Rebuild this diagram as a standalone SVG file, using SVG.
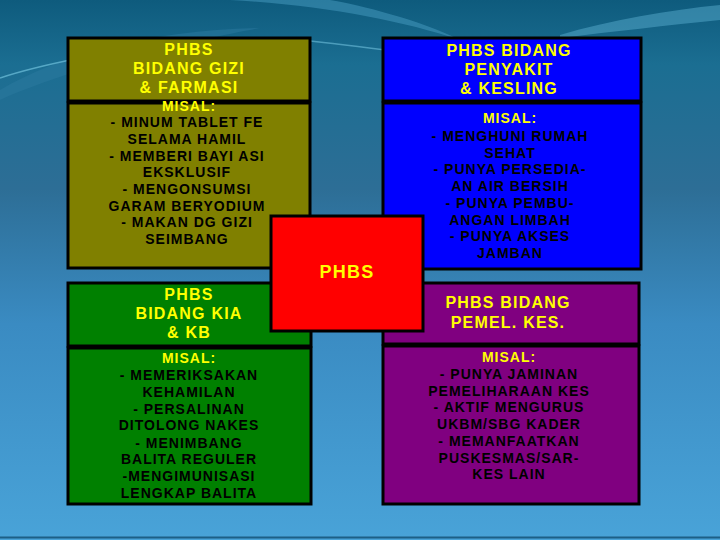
<svg xmlns="http://www.w3.org/2000/svg" width="720" height="540" viewBox="0 0 720 540">
<defs>
<linearGradient id="bg" x1="0" y1="0" x2="0" y2="1">
<stop offset="0" stop-color="#0e5b7d"/>
<stop offset="0.12" stop-color="#1b6e92"/>
<stop offset="0.35" stop-color="#2d6e96"/>
<stop offset="0.6" stop-color="#3a8bc2"/>
<stop offset="1" stop-color="#49a3d8"/>
</linearGradient>
<style>
text{font-family:"Liberation Sans",Arial,sans-serif;font-weight:bold;text-anchor:middle}
.h{fill:#ffff00;font-size:16px;letter-spacing:1.2px}
.m{fill:#ffff00;font-size:14px;letter-spacing:1px}
.b{fill:#000;font-size:14px;letter-spacing:1px}
.box{stroke:#000;stroke-width:3}
</style>
</defs>
<rect width="720" height="540" fill="url(#bg)"/>
<path d="M0,90 C60,55 150,30 260,28 C200,40 90,60 0,100 Z" fill="#2c7aa0" opacity="0.5"/>
<path d="M0,78 C30,68 60,62 80,58" stroke="#6fc0dc" stroke-width="1.5" fill="none" opacity="0.7"/>
<path d="M230,0 C320,5 400,20 460,40 C420,20 360,5 330,0 Z" fill="#3f93b8" opacity="0.6"/>
<path d="M300,40 C340,44 370,48 400,52" stroke="#6fc0dc" stroke-width="1.5" fill="none" opacity="0.6"/>
<path d="M560,35 C610,20 670,10 720,5 L720,20 C670,25 610,32 560,38 Z" fill="#5fb4d4" opacity="0.45"/>
<path d="M0,537.5 H720" stroke="#1d5f86" stroke-width="2"/>

<g id="gizi">
<rect class="box" x="68" y="38" width="242" height="63" fill="#808000"/>
<rect class="box" x="68" y="103" width="242" height="165" fill="#808000"/>
<text class="h"><tspan x="189" y="55">PHBS</tspan><tspan x="189" y="74">BIDANG GIZI</tspan><tspan x="189" y="93">&amp; FARMASI</tspan></text>
<text class="m" x="189" y="111">MISAL:</text>
<text class="b"><tspan x="187" y="127">- MINUM TABLET FE</tspan><tspan x="187" y="144">SELAMA HAMIL</tspan><tspan x="187" y="161">- MEMBERI BAYI ASI</tspan><tspan x="187" y="177">EKSKLUSIF</tspan><tspan x="187" y="194">- MENGONSUMSI</tspan><tspan x="187" y="211">GARAM BERYODIUM</tspan><tspan x="187" y="227">- MAKAN DG GIZI</tspan><tspan x="187" y="244">SEIMBANG</tspan></text>
</g>

<g id="penyakit">
<rect class="box" x="383" y="38" width="258" height="63" fill="#0000ff"/>
<rect class="box" x="383" y="103" width="258" height="166" fill="#0000ff"/>
<text class="h"><tspan x="509" y="56">PHBS BIDANG</tspan><tspan x="509" y="75">PENYAKIT</tspan><tspan x="509" y="94">&amp; KESLING</tspan></text>
<text class="m" x="510" y="123">MISAL:</text>
<text class="b"><tspan x="510" y="141">- MENGHUNI RUMAH</tspan><tspan x="510" y="158">SEHAT</tspan><tspan x="510" y="174">- PUNYA PERSEDIA-</tspan><tspan x="510" y="191">AN AIR BERSIH</tspan><tspan x="510" y="208">- PUNYA PEMBU-</tspan><tspan x="510" y="225">ANGAN LIMBAH</tspan><tspan x="510" y="241">- PUNYA AKSES</tspan><tspan x="510" y="258">JAMBAN</tspan></text>
</g>

<g id="kia">
<rect class="box" x="68" y="283" width="243" height="63" fill="#008000"/>
<rect class="box" x="68" y="348" width="243" height="156" fill="#008000"/>
<text class="h"><tspan x="189" y="300">PHBS</tspan><tspan x="189" y="319">BIDANG KIA</tspan><tspan x="189" y="338">&amp; KB</tspan></text>
<text class="m" x="189" y="363">MISAL:</text>
<text class="b"><tspan x="189" y="380">- MEMERIKSAKAN</tspan><tspan x="189" y="397">KEHAMILAN</tspan><tspan x="189" y="414">- PERSALINAN</tspan><tspan x="189" y="430">DITOLONG NAKES</tspan><tspan x="189" y="448">- MENIMBANG</tspan><tspan x="189" y="464">BALITA REGULER</tspan><tspan x="189" y="481">-MENGIMUNISASI</tspan><tspan x="189" y="498">LENGKAP BALITA</tspan></text>
</g>

<g id="pemel">
<rect class="box" x="383" y="283" width="256" height="61" fill="#800080"/>
<rect class="box" x="383" y="346" width="256" height="158" fill="#800080"/>
<text class="h"><tspan x="508" y="308">PHBS BIDANG</tspan><tspan x="508" y="328">PEMEL. KES.</tspan></text>
<text class="m" x="509" y="362">MISAL:</text>
<text class="b"><tspan x="509" y="379">- PUNYA JAMINAN</tspan><tspan x="509" y="396">PEMELIHARAAN KES</tspan><tspan x="509" y="412">- AKTIF MENGURUS</tspan><tspan x="509" y="429">UKBM/SBG KADER</tspan><tspan x="509" y="446">- MEMANFAATKAN</tspan><tspan x="509" y="463">PUSKESMAS/SAR-</tspan><tspan x="509" y="479">KES LAIN</tspan></text>
</g>

<g id="phbs">
<rect class="box" x="271" y="216" width="152" height="115" fill="#ff0000"/>
<text class="h" x="347" y="278" style="font-size:18px">PHBS</text>
</g>

<g id="connectors"></g>
</svg>
